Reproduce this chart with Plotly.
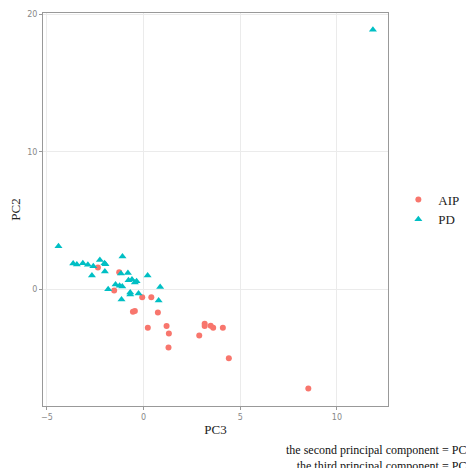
import plotly.graph_objects as go

aip_x = [-2.36,-1.52,-1.26,-0.07,0.4,-0.55,-0.45,0.74,0.22,1.19,1.31,1.29,2.88,3.16,3.16,3.47,3.6,4.1,4.41,8.52]
aip_y = [1.6,-0.07,1.26,-0.56,-0.56,-1.62,-1.57,-1.67,-2.78,-2.66,-3.2,-4.21,-3.34,-2.49,-2.66,-2.64,-2.78,-2.78,-4.99,-7.19]
pd_x = [-4.4,-3.64,-3.45,-3.14,-2.88,-2.6,-2.67,-2.26,-2.02,-1.97,-2.0,-1.83,-1.45,-1.24,-1.1,-1.17,-1.09,-0.81,-0.78,-0.6,-0.45,-0.36,-0.69,-0.69,-0.26,-1.14,0.21,0.86,0.78,11.86]
pd_y = [3.15,1.89,1.82,1.91,1.79,1.69,1.02,2.15,1.91,1.84,1.31,0.02,0.36,0.27,0.22,1.16,2.4,1.19,0.68,0.73,0.51,0.6,-0.22,-0.36,-0.29,-0.73,1.02,0.19,-0.8,18.89]

fig = go.Figure()
fig.add_trace(go.Scatter(x=aip_x, y=aip_y, mode="markers", name="AIP",
    marker=dict(symbol="circle", size=6, color="#F8766D")))
fig.add_trace(go.Scatter(x=pd_x, y=pd_y, mode="markers", name="PD",
    marker=dict(symbol="triangle-up", size=7, color="#00BFC4")))

ax = dict(showline=True, linecolor="#999", linewidth=1, mirror=True, gridcolor="#EBEBEB",
          zeroline=False, ticks="outside", ticklen=3, tickcolor="#999", automargin=False,
          tickfont=dict(family="DejaVu Sans", size=8, color="#888"))
fig.update_layout(
    width=474, height=468, paper_bgcolor="white", plot_bgcolor="white",
    margin=dict(l=35, r=94, t=5, b=70),
    xaxis=dict(ax, range=[-5.2, 12.64], tickvals=[-5,0,5,10],
               title=dict(text="PC3", font=dict(family="Liberation Serif", size=13, color="#222"), standoff=4)),
    yaxis=dict(ax, range=[-8.47, 20.1], tickvals=[0,10,20],
               title=dict(text="PC2", font=dict(family="Liberation Serif", size=13, color="#222"), standoff=4)),
    legend=dict(x=1.03, y=0.5, yanchor="middle", font=dict(family="Liberation Serif", size=13, color="#222"),
                itemwidth=30, tracegroupgap=6),
    showlegend=True,
)
fig.add_annotation(xref="paper", yref="paper", x=1.25, y=-0.09, xanchor="right", yanchor="top",
    showarrow=False, align="right",
    text="the second principal component = PC2<br>the third principal component = PC3",
    font=dict(family="Liberation Serif", size=12, color="#111"))
fig.write_html("out.html")
